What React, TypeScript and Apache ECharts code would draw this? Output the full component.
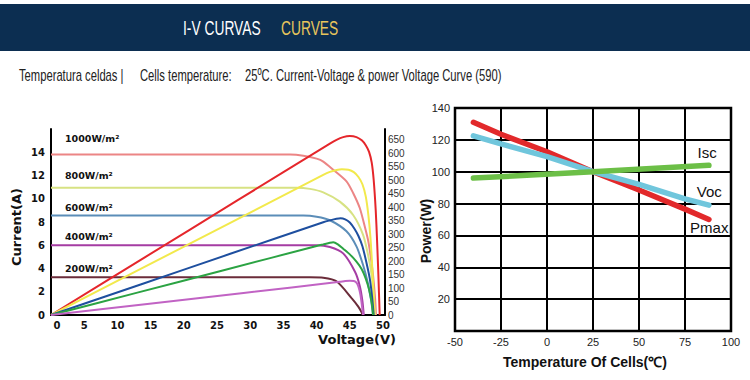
import React, { useEffect, useRef } from 'react';
import * as echarts from 'echarts';

type P = [number, number];

// ---------- Left chart: I-V and P-V curves ----------
const irradianceLabels = ['1000W/m²', '800W/m²', '600W/m²', '400W/m²', '200W/m²'];
const irradianceLabelCoords: P[] = [[2.1, 15.2], [2.1, 11.96], [2.1, 9.29], [2.1, 6.71], [2.1, 4.04]];

const iv1000: P[] = [[0, 13.8], [18, 13.8], [36, 13.8], [38, 13.7], [40, 13.45], [41, 13.2], [42.5, 12.5], [44.5, 11.5], [45.5, 10.5], [46.5, 9.2], [47.3, 7.5], [47.8, 6.3], [48.2, 4.8], [48.5, 3.4], [48.8, 1.5], [48.95, 0]];
const iv800: P[] = [[0, 10.95], [18, 10.95], [37, 10.95], [39, 10.85], [41, 10.55], [43.5, 9.75], [45.5, 8.6], [47, 6.9], [47.7, 5.3], [48.3, 3.4], [48.6, 1.7], [48.8, 0]];
const iv600: P[] = [[0, 8.55], [19, 8.55], [38, 8.55], [40, 8.45], [42, 8.15], [44.5, 7.2], [46, 5.9], [47, 4.3], [47.7, 2.8], [48.2, 1.3], [48.5, 0]];
const iv400: P[] = [[0, 6.0], [20, 6.0], [40, 6.0], [42, 5.85], [44, 5.3], [45.8, 3.7], [46.5, 2.5], [46.9, 1.2], [47.1, 0]];
const iv200: P[] = [[0, 3.24], [20, 3.24], [39, 3.24], [41, 3.2], [43, 2.9], [45.3, 1.43], [46.3, 0.7], [46.8, 0.2], [46.9, 0]];

const pv1000: P[] = [[0, 0], [14, 212], [28, 424], [42, 636], [43, 650], [44, 660], [45, 664], [46, 660], [46.8, 648], [47.4, 630], [47.9, 605], [48.3, 565], [48.6, 500], [48.9, 390], [49.1, 280], [49.3, 150], [49.5, 0]];
const pv800: P[] = [[0, 0], [13.5, 171], [27, 342], [41, 520], [42, 531], [43, 538], [43.8, 541], [44.8, 539], [45.6, 530], [46.3, 512], [46.9, 485], [47.4, 440], [47.8, 370], [48.1, 290], [48.35, 190], [48.55, 90], [48.7, 0]];
const pv600: P[] = [[0, 0], [13.5, 113], [27, 227], [41, 344], [42, 351], [43, 357], [43.6, 359], [44.3, 355], [45, 343], [45.7, 320], [46.3, 293], [46.9, 255], [47.5, 195], [48, 136], [48.3, 80], [48.6, 0]];
const pv400: P[] = [[0, 0], [13, 83], [26, 166], [40, 256], [41, 262], [42, 268], [42.5, 270], [43.2, 262], [44, 246], [45, 225], [46, 198], [46.8, 170], [47.4, 135], [47.9, 95], [48.3, 45], [48.5, 0]];
const pv200: P[] = [[0, 0], [14.5, 41], [29, 82], [43.5, 123], [44.3, 126], [45, 127], [45.6, 126], [46, 120], [46.3, 105], [46.6, 75], [46.8, 40], [47.0, 0]];

const ivCurves = [iv1000, iv800, iv600, iv400, iv200];
const pvCurves = [pv1000, pv800, pv600, pv400, pv200];
const ivColors = ['#ec8585', '#d7e283', '#5b8db8', '#a53ca3', '#6b2c3a'];
const pvColors = ['#e5262b', '#f2e94c', '#1e4f9f', '#2ba343', '#c163c4'];

// ---------- Right chart: temperature coefficients ----------
const tempNames = ['Pmax', 'Voc', 'Isc'];
const pmaxVsTemp: P[] = [[-40, 131], [-25, 123.5], [0, 112.5], [25, 100], [50, 88.5], [75, 76.5], [88, 70]];
const vocVsTemp: P[] = [[-40, 122.5], [-25, 117.5], [0, 109.5], [25, 100], [50, 92], [75, 83], [88, 79]];
const iscVsTemp: P[] = [[-40, 96], [25, 100], [88, 104]];
const tempLabelCoords: P[] = [[88.2, 64.8], [88.2, 87.4], [87, 112.2]];
const tempSeries = [pmaxVsTemp, vocVsTemp, iscVsTemp];
const tempColors = ['#e2292b', '#70c6dc', '#6cbf47'];

const DJ = 'DejaVu Sans';
const LS = 'Liberation Sans';

function txt(x: number, y: number, text: string, fill: string, font: string, align: string, extra: any = {}) {
  return {
    type: 'text', x, y, z: 10, ...extra,
    style: { x: 0, y: 0, text, fill, font, align, verticalAlign: 'middle', textAlign: align, textVerticalAlign: 'middle' },
  };
}

export default function App() {
  const ref = useRef<HTMLDivElement>(null);
  useEffect(() => {
    document.body.style.margin = '0';
    const chart = echarts.init(ref.current!, undefined, { renderer: 'svg' });

    const series: any[] = [];
    ivCurves.forEach((d, i) => {
      series.push({
        type: 'line', xAxisIndex: 0, yAxisIndex: 0, data: d, showSymbol: false, symbol: 'none',
        smooth: 0.25,
        lineStyle: { color: ivColors[i], width: 2 },
        markPoint: {
          symbol: 'circle', symbolSize: 0,
          label: { show: true, position: 'right', distance: 0, formatter: '{b}', fontFamily: DJ, fontWeight: 'bold', fontSize: 9.5, color: '#111' },
          data: [{ name: irradianceLabels[i], coord: irradianceLabelCoords[i] }],
        },
      });
    });
    pvCurves.forEach((d, i) => {
      series.push({
        type: 'line', xAxisIndex: 0, yAxisIndex: 1, data: d, showSymbol: false, symbol: 'none',
        smooth: 0.25,
        lineStyle: { color: pvColors[i], width: 2 },
      });
    });
    tempSeries.forEach((d, i) => {
      series.push({
        type: 'line', xAxisIndex: 1, yAxisIndex: 2, data: d, showSymbol: false, symbol: 'none',
        lineStyle: { color: tempColors[i], width: 5.5, cap: 'round' },
        markPoint: {
          symbol: 'circle', symbolSize: 0,
          label: { show: true, position: 'inside', formatter: '{b}', fontFamily: LS, fontSize: 15, color: '#111' },
          data: [{ name: tempNames[i], coord: tempLabelCoords[i] }],
        },
      });
    });

    const option: any = {
      animation: false,
      backgroundColor: '#fff',
      grid: [
        { left: 51, top: 129, width: 334, height: 186 },
        { left: 455, top: 108, width: 276, height: 223, show: true, borderColor: '#000', borderWidth: 2.5, backgroundColor: 'transparent' },
      ],
      xAxis: [
        {
          gridIndex: 0, type: 'value', min: 0, max: 50.3, interval: 5,
          axisLine: { show: true, lineStyle: { color: '#000', width: 2 } },
          axisTick: { show: false }, splitLine: { show: false },
          axisLabel: {
            fontFamily: DJ, fontWeight: 'bold', fontSize: 10, color: '#111', margin: 5,
            formatter: (v: number) => (v > 50 ? '' : v === 0 ? '{z|0}' : String(v)),
            rich: { z: { padding: [0, 0, 0, 12] } },
          },
        },
        {
          gridIndex: 1, type: 'value', min: -50, max: 100, interval: 25,
          axisLine: { show: false }, axisTick: { show: false },
          splitLine: { show: true, lineStyle: { color: '#000', width: 2 } },
          axisLabel: { fontFamily: LS, fontSize: 11, color: '#222', margin: 5 },
        },
      ],
      yAxis: [
        {
          gridIndex: 0, type: 'value', min: 0, max: 16, interval: 2,
          axisLine: { show: true, lineStyle: { color: '#000', width: 2 } },
          axisTick: { show: false }, splitLine: { show: false },
          axisLabel: {
            fontFamily: DJ, fontWeight: 'bold', fontSize: 10, color: '#111', margin: 6,
            formatter: (v: number) => (v > 14 ? '' : String(v)),
          },
        },
        {
          gridIndex: 0, type: 'value', position: 'right', min: 0, max: 690, interval: 50,
          axisLine: { show: true, lineStyle: { color: '#000', width: 2 } },
          axisTick: { show: false }, splitLine: { show: false },
          axisLabel: {
            fontFamily: LS, fontSize: 10, color: '#333', margin: 3, padding: [0, 0, 6, 0],
            formatter: (v: number) => (v > 650 ? '' : String(v)),
          },
        },
        {
          gridIndex: 1, type: 'value', min: 0, max: 140, interval: 20,
          axisLine: { show: false }, axisTick: { show: false },
          splitLine: { show: true, lineStyle: { color: '#000', width: 2 } },
          axisLabel: {
            fontFamily: LS, fontSize: 11, color: '#222', margin: 5,
            formatter: (v: number) => (v === 0 ? '' : String(v)),
          },
        },
      ],
      graphic: [
        { type: 'rect', shape: { x: 0, y: 4, width: 750, height: 47 }, style: { fill: '#0c2e51' }, z: 0 },
        txt(183, 28, 'I-V CURVAS', '#ffffff', `20px "${LS}"`, 'left', { scaleX: 0.69 }),
        txt(281, 28, 'CURVES', '#e8c55c', `20px "${LS}"`, 'left', { scaleX: 0.69 }),
        txt(19, 75, 'Temperatura celdas |', '#222', `17px "${LS}"`, 'left', { scaleX: 0.66 }),
        txt(140, 75, 'Cells temperature:', '#222', `17px "${LS}"`, 'left', { scaleX: 0.66 }),
        txt(245, 75, '25ºC. Current-Voltage & power Voltage Curve (590)', '#222', `17px "${LS}"`, 'left', { scaleX: 0.66 }),
        txt(16, 227, 'Current(A)', '#111', `bold 13px "${DJ}"`, 'center', { rotation: Math.PI / 2 }),
        txt(357, 339, 'Voltage(V)', '#111', `bold 13px "${DJ}"`, 'center'),
        txt(426, 231, 'Power(W)', '#111', `bold 14px "${LS}"`, 'center', { rotation: Math.PI / 2 }),
        txt(585, 362, 'Temperature Of Cells(℃)', '#111', `bold 14px "${LS}"`, 'center'),
      ],
      series,
    };
    chart.setOption(option);
    return () => chart.dispose();
  }, []);
  return <div ref={ref} style={{ position: 'fixed', left: 0, top: 0, width: 750, height: 380 }} />;
}
